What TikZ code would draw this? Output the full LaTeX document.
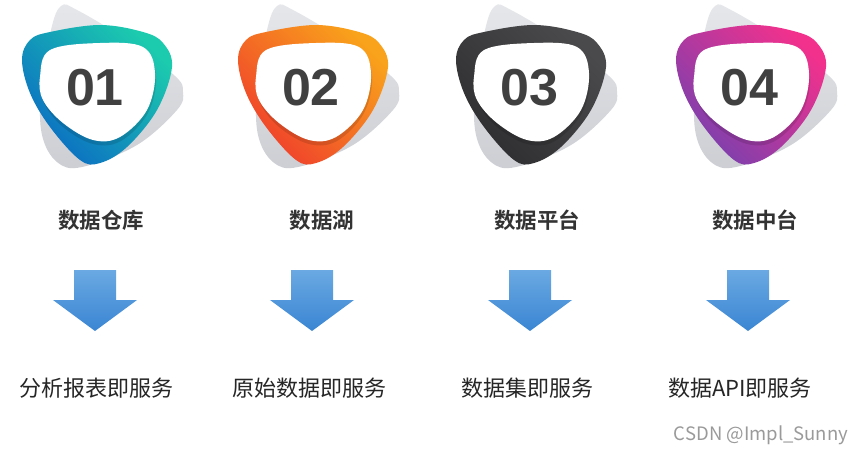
\documentclass[tikz,border=0pt]{standalone}
\usepackage{fontspec}
\setmainfont{Liberation Sans}
\newfontfamily\cjk{Noto Sans CJK SC}
\newfontfamily\cjkbold{Noto Sans CJK SC Bold}
\newfontfamily\numfont{Liberation Sans Bold}
\definecolor{numgray}{HTML}{404040}
\definecolor{shadowtop}{HTML}{E6E7EA}
\definecolor{shadowbot}{HTML}{CCCED3}
\definecolor{tealA}{HTML}{1CCBAE}
\definecolor{blueA}{HTML}{0B6CC3}
\definecolor{orangeA}{HTML}{F9A21B}
\definecolor{redA}{HTML}{EF3E2C}
\definecolor{darkA}{HTML}{4A4A4C}
\definecolor{darkB}{HTML}{2E2E30}
\definecolor{pinkA}{HTML}{F2318D}
\definecolor{purpleA}{HTML}{7940AE}
\definecolor{arrowtop}{HTML}{6AA9E2}
\definecolor{arrowbot}{HTML}{3A85D3}
\definecolor{marktext}{HTML}{9A9A9A}
\tikzset{
  numtext/.style={font=\numfont\fontsize{52}{52}\selectfont, text=numgray, inner sep=0pt},
  headtext/.style={font=\cjkbold\fontsize{21.5}{21.5}\selectfont, text=numgray!80!black, inner sep=0pt},
  subtext/.style={font=\cjk\fontsize{22}{22}\selectfont, text=black!85, inner sep=0pt},
  marktextstyle/.style={font=\cjk\fontsize{18.5}{18.5}\selectfont, text=marktext, inner sep=0pt},
  arrowshape/.style={top color=arrowtop, bottom color=arrowbot},
}
\newcommand{\mybadge}[5]{%
  \begin{scope}[shift={(#2,90)}]
    \shade[top color=shadowtop, bottom color=shadowbot]
      plot[smooth cycle, tension=0.6] coordinates {(-36,-84) (-20,-80) (30,-50) (78,-14) (86,2) (80,20) (40,55) (-15,77) (-40,72) (-55,45) (-56,0) (-46,-60)};
    \shade[top color=#3, bottom color=#4, shading angle=-45]
      plot[smooth cycle, tension=0.6] coordinates {(-47,-58) (3,-65) (46,-58) (66,-47) (75,-23) (60,20) (30,57) (3,73) (-17,70) (-47,37) (-67,3) (-75,-30) (-67,-50)};
    \fill[black, opacity=0.12]
      plot[smooth cycle, tension=0.6] coordinates {(-56,-11) (-46,-37) (3,-44) (46,-40) (59,-14) (51,23) (24,51) (-4,54) (-34,37) (-53,13)};
    \fill[white]
      plot[smooth cycle, tension=0.6] coordinates {(-57,-13) (-47,-40) (3,-47) (46,-43) (58,-17) (50,20) (23,47) (-4,50) (-34,33) (-54,10)};
    \node[numtext] (#1) at (-2,-2) {#5};
  \end{scope}}
\newcommand{\myarrow}[1]{%
  \shade[arrowshape] (#1-21,270) -- (#1+21,270) -- (#1+21,300) -- (#1+42,300) -- (#1,331) -- (#1-42,300) -- (#1-21,300) -- cycle;}
\begin{document}
\begin{tikzpicture}[x=1pt,y=-1pt]
  \useasboundingbox[fill=white] (0,0) rectangle (866,455);
  \mybadge{n1}{97}{tealA}{blueA}{01}
  \mybadge{n2}{313}{orangeA}{redA}{02}
  \mybadge{n3}{531}{darkA}{darkB}{03}
  \mybadge{n4}{751}{pinkA}{purpleA}{04}
  \node[headtext] (h1) at (101,220) {数据仓库};
  \node[headtext] (h2) at (322,220) {数据湖};
  \node[headtext] (h3) at (537,220) {数据平台};
  \node[headtext] (h4) at (755,220) {数据中台};
  \myarrow{95}
  \myarrow{312}
  \myarrow{530}
  \myarrow{748}
  \node[subtext] (s1) at (96,388) {分析报表即服务};
  \node[subtext] (s2) at (309,388) {原始数据即服务};
  \node[subtext] (s3) at (527,388) {数据集即服务};
  \node[subtext] (s4) at (740,388) {数据API即服务};
  \node[marktextstyle] (wm) at (761,435) {CSDN @Impl\_Sunny};
\end{tikzpicture}
\end{document}
